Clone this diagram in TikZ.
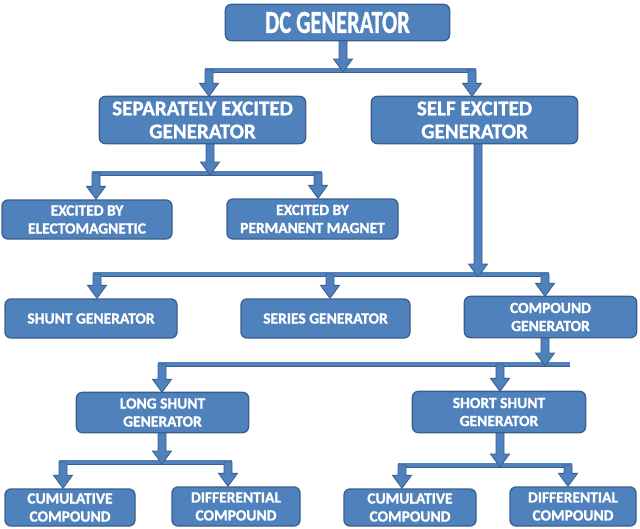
\documentclass[tikz,border=0pt]{standalone}
\usepackage{fontspec}
\setmainfont{Carlito}[BoldFeatures={FakeBold=1.2}]
\usetikzlibrary{calc}
\definecolor{bfill}{HTML}{4F81BD}
\definecolor{bline}{HTML}{3A5F8C}
\begin{document}
\begin{tikzpicture}[x=1pt,y=-1pt,
  box/.style={draw=bline, line width=1.3pt, fill=bfill, rounded corners=6pt,
    text=white, align=center, inner sep=0pt},
  sz/.style 2 args={minimum width=#1pt, minimum height=#2pt},
  bigtxt/.style={font=\fontsize{21}{23}\selectfont\bfseries},
  smalltxt/.style={font=\fontsize{15.5}{18}\selectfont\bfseries},
  dctxt/.style={font=\fontsize{32}{32}\selectfont\bfseries},
  bar/.style={draw=bline, line width=0.7pt, double=bfill, double distance=3.6pt},
  barrow/.style={draw=bline, line width=0.8pt, fill=bfill,
    to path={let \p1=(\tikztostart), \p2=(\tikztotarget) in
      (\x1-4pt,\y1) -- (\x1-4pt,\y2+13pt) -- (\x1-9.5pt,\y2+13pt) -- (\x1,\y2)
      -- (\x1+9.5pt,\y2+13pt) -- (\x1+4pt,\y2+13pt) -- (\x1+4pt,\y1) -- cycle}}
]
\fill[white] (0,0) rectangle (640,528);
\useasboundingbox (0,0) rectangle (640,528);

% boxes (positions only)
\path
  (337.5,22.5) node[box, sz={223}{35}, dctxt] (dc) {\scalebox{0.7}[1]{DC GENERATOR}}
  (202.5,120)  node[box, sz={205}{46}, bigtxt] (sep)  {SEPARATELY EXCITED\\GENERATOR}
  (474.5,120)  node[box, sz={205}{46}, bigtxt] (self) {SELF EXCITED\\GENERATOR}
  (87,219.5)   node[box, sz={170}{39}, smalltxt] (exem) {EXCITED BY\\ELECTOMAGNETIC}
  (312.5,219)  node[box, sz={171}{40}, smalltxt] (expm) {EXCITED BY\\PERMANENT MAGNET}
  (91,318.5)   node[box, sz={172}{39}, smalltxt] (shunt) {SHUNT GENERATOR}
  (325.5,318.5) node[box, sz={169}{39}, smalltxt] (series) {SERIES GENERATOR}
  (550.5,317)  node[box, sz={171}{40}, smalltxt] (comp) {COMPOUND\\GENERATOR}
  (162.5,412.5) node[box, sz={171}{39}, smalltxt] (long) {LONG SHUNT\\GENERATOR}
  (499,412)    node[box, sz={172}{40}, smalltxt] (short) {SHORT SHUNT\\GENERATOR}
  (70,507.5)   node[box, sz={130}{37}, smalltxt] (cum1) {CUMULATIVE\\COMPOUND}
  (236,506.5)  node[box, sz={128}{39}, smalltxt] (dif1) {DIFFERENTIAL\\COMPOUND}
  (410,507.5)  node[box, sz={132}{37}, smalltxt] (cum2) {CUMULATIVE\\COMPOUND}
  (573,506.5)  node[box, sz={126}{39}, smalltxt] (dif2) {DIFFERENTIAL\\COMPOUND};

% coordinates on the bars
\coordinate (s1) at ([xshift=5.5pt]dc.south);
\coordinate (m1) at (343,70);
\coordinate (l1) at (209,70);
\coordinate (r1) at (472,70);
\coordinate (s2) at ([xshift=7.5pt]sep.south);
\coordinate (m2) at (210,173);
\coordinate (l2) at (96,173);
\coordinate (r2) at (318,173);
\coordinate (s3) at ([xshift=3.5pt]self.south);
\coordinate (m3) at (478,274);
\coordinate (l3) at (97,274);
\coordinate (c3) at (330,274);
\coordinate (r3) at (545,274);
\coordinate (s4) at ([xshift=-5.5pt]comp.south);
\coordinate (m4) at (545,364);
\coordinate (l4) at (162,364);
\coordinate (r4) at (500,364);
\coordinate (e4) at (570,364);
\coordinate (s5) at ([xshift=-0.5pt]long.south);
\coordinate (m5) at (162,462);
\coordinate (l5) at (63,462);
\coordinate (r5) at (228,462);
\coordinate (s6) at ([xshift=1pt]short.south);
\coordinate (m6) at (500,465);
\coordinate (l6) at (402,465);
\coordinate (r6) at (568,465);

% bars
\draw[bar] ([xshift=-4pt]l1) -- ([xshift=4pt]r1);
\draw[bar] ([xshift=-4pt]l2) -- ([xshift=4pt]r2);
\draw[bar] ([xshift=-4pt]l3) -- ([xshift=4pt]r3);
\draw[bar] ([xshift=-4pt]l4) -- (e4);
\draw[bar] ([xshift=-4pt]l5) -- ([xshift=4pt]r5);
\draw[bar] ([xshift=-4pt]l6) -- ([xshift=4pt]r6);

% block arrows
\draw[barrow] (s1) to ([yshift=-2pt]m1);
\draw[barrow] (l1) to (sep.north);
\draw[barrow] (r1) to (self.north);
\draw[barrow] (s2) to ([yshift=-2pt]m2);
\draw[barrow] (l2) to (exem.north);
\draw[barrow] (r2) to (expm.north);
\draw[barrow] (s3) to ([yshift=-3pt]m3);
\draw[barrow] (l3) to (shunt.north);
\draw[barrow] (c3) to (series.north);
\draw[barrow] (r3) to (comp.north);
\draw[barrow] (s4) to ([yshift=-2pt]m4);
\draw[barrow] (l4) to (long.north);
\draw[barrow] (r4) to (short.north);
\draw[barrow] (s5) to ([yshift=-2pt]m5);
\draw[barrow] (l5) to (cum1.north);
\draw[barrow] (r5) to (dif1.north);
\draw[barrow] (s6) to ([yshift=-2pt]m6);
\draw[barrow] (l6) to (cum2.north);
\draw[barrow] (r6) to (dif2.north);

% redraw boxes on top of arrow starts
\foreach \n in {dc,sep,self,comp,long,short}{
  \draw[bline, line width=1.3pt, fill=bfill, rounded corners=6pt]
    (\n.north west) rectangle (\n.south east);
}
\path
  (dc.center) node[text=white, dctxt] {\scalebox{0.7}[1]{DC GENERATOR}}
  (sep.center) node[text=white, align=center, bigtxt] {SEPARATELY EXCITED\\GENERATOR}
  (self.center) node[text=white, align=center, bigtxt] {SELF EXCITED\\GENERATOR}
  (comp.center) node[text=white, align=center, smalltxt] {COMPOUND\\GENERATOR}
  (long.center) node[text=white, align=center, smalltxt] {LONG SHUNT\\GENERATOR}
  (short.center) node[text=white, align=center, smalltxt] {SHORT SHUNT\\GENERATOR};
\end{tikzpicture}
\end{document}
